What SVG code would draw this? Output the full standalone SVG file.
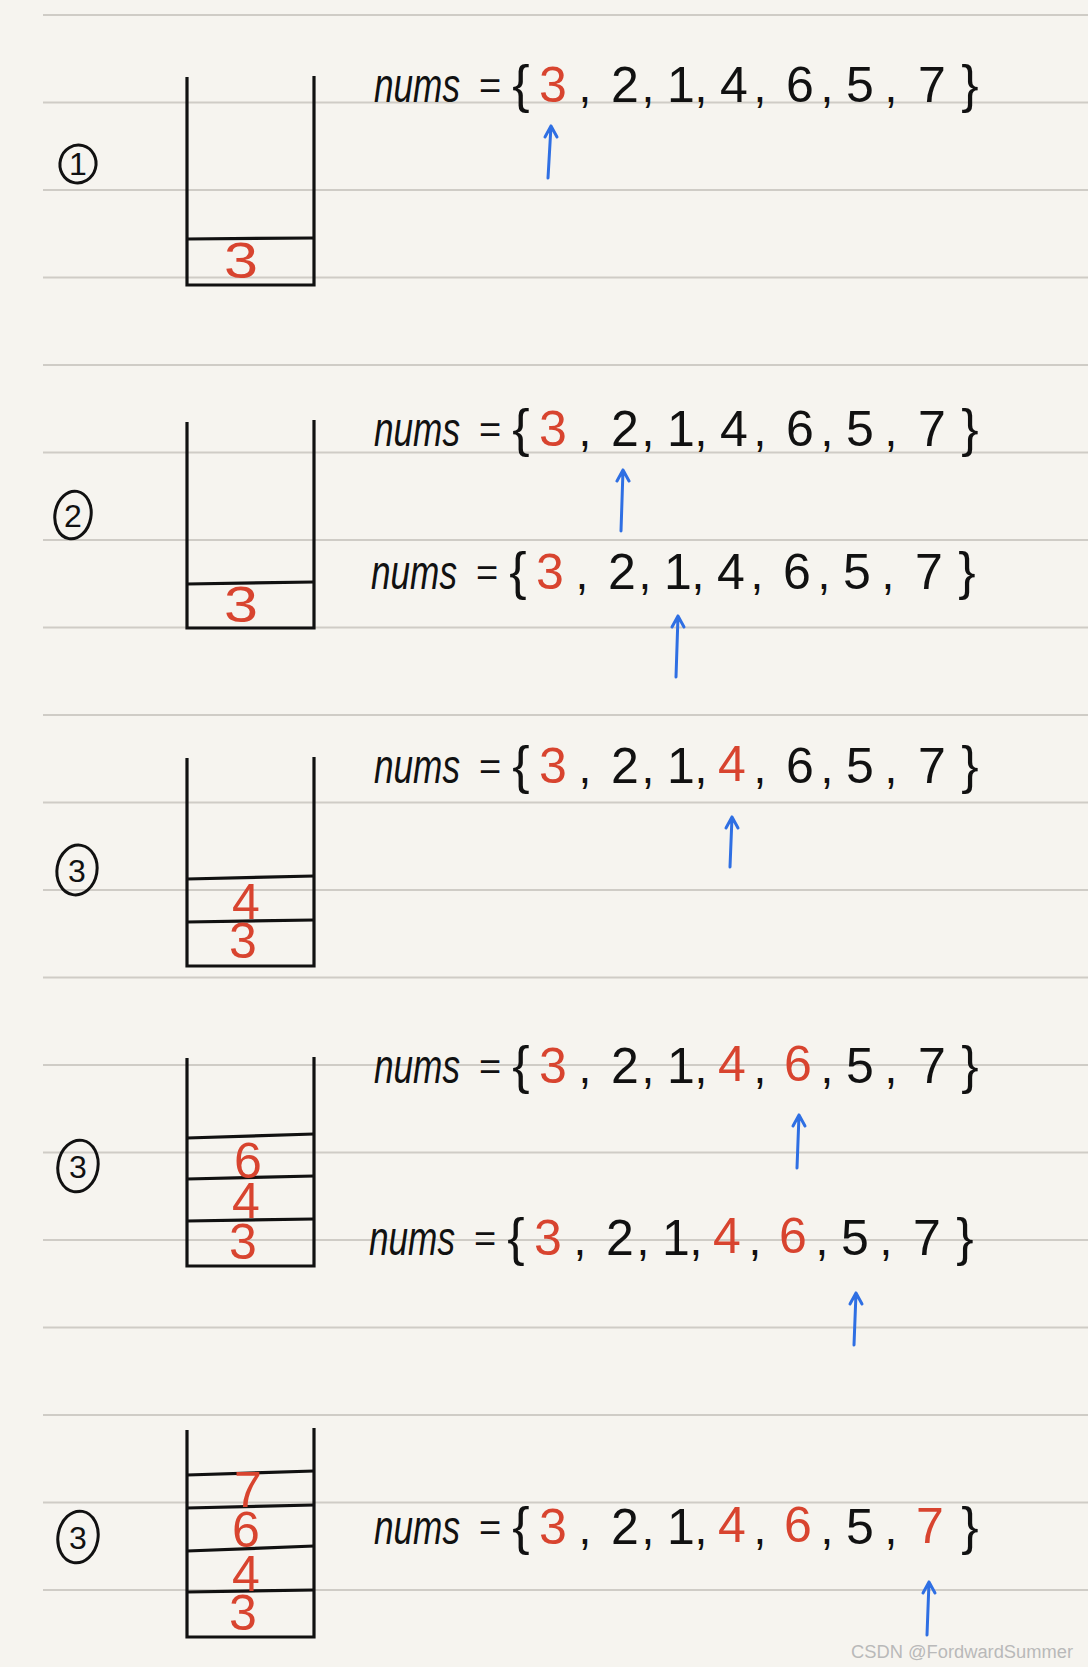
<svg xmlns="http://www.w3.org/2000/svg" width="1088" height="1667" viewBox="0 0 1088 1667">
<defs>
<style>
.bg{fill:#f6f4ef}
.rule{stroke:#cfccc6;stroke-width:2;fill:none}
.stk{stroke:#111;stroke-width:3.2;fill:none;stroke-linejoin:miter}
.t{font-family:"Liberation Sans","DejaVu Sans",sans-serif;fill:#111;text-anchor:middle}
.d{font-size:50px}
.red{fill:#d8442f}
.nums{font-size:48px;text-anchor:start;font-style:italic}
.eq{font-size:38px}
.br{font-size:52px}
.cm{font-size:46px}
.sd{font-family:"Liberation Sans","DejaVu Sans",sans-serif;fill:#d8442f;text-anchor:middle;font-size:50px}
.lab{stroke:#111;stroke-width:3;fill:none}
.labt{font-family:"Liberation Sans","DejaVu Sans",sans-serif;fill:#111;text-anchor:middle;font-size:32px}
.arr{stroke:#2f6fe3;stroke-width:3;fill:none;stroke-linecap:round;stroke-linejoin:round}
.wm{font-family:"Liberation Sans","DejaVu Sans",sans-serif;fill:#b9b9b9;font-size:18px}
</style>
</defs>
<rect class="bg" x="0" y="0" width="1088" height="1667"/>
<g id="rules">
<path class="rule" d="M43,15H1088M43,102.5H1088M43,190H1088M43,277.5H1088M43,365H1088M43,452.5H1088M43,540H1088M43,627.5H1088M43,715H1088M43,802.5H1088M43,890H1088M43,977.5H1088M43,1065H1088M43,1152.5H1088M43,1240H1088M43,1327.5H1088M43,1415H1088M43,1502.5H1088M43,1590H1088"/>
</g>

<g id="label-1">
<ellipse class="lab" cx="78" cy="164" rx="18" ry="19" transform="rotate(15 78 164)"/>
<text class="labt" x="78" y="175" font-size="30">1</text>
</g>
<g id="label-2">
<ellipse class="lab" cx="73" cy="515" rx="18" ry="24" transform="rotate(10 73 515)"/>
<text class="labt" x="73" y="527">2</text>
</g>
<g id="label-3a">
<ellipse class="lab" cx="77" cy="870" rx="20" ry="25" transform="rotate(10 77 870)"/>
<text class="labt" x="77" y="882">3</text>
</g>
<g id="label-3b">
<ellipse class="lab" cx="78" cy="1166" rx="20" ry="26" transform="rotate(10 78 1166)"/>
<text class="labt" x="78" y="1178">3</text>
</g>
<g id="label-3c">
<ellipse class="lab" cx="78" cy="1537" rx="20" ry="26" transform="rotate(10 78 1537)"/>
<text class="labt" x="78" y="1549">3</text>
</g>

<g id="stack-1">
<path class="stk" d="M187,77V285H314V76"/>
<path class="stk" d="M187,239L314,238"/>
<text class="sd" x="241" y="278" font-size="38" textLength="34" lengthAdjust="spacingAndGlyphs">3</text>
</g>
<g id="stack-2">
<path class="stk" d="M187,422V628H314V420"/>
<path class="stk" d="M187,584L314,582"/>
<text class="sd" x="241" y="622" font-size="38" textLength="34" lengthAdjust="spacingAndGlyphs">3</text>
</g>
<g id="stack-3">
<path class="stk" d="M187,758V966H314V757"/>
<path class="stk" d="M187,879L314,876M187,922L314,920"/>
<text class="sd" x="246" y="919">4</text>
<text class="sd" x="243" y="958">3</text>
</g>
<g id="stack-4">
<path class="stk" d="M187,1058V1266H314V1057"/>
<path class="stk" d="M187,1138L314,1134M187,1179L314,1176M187,1221L314,1219"/>
<text class="sd" x="248" y="1178">6</text>
<text class="sd" x="246" y="1218">4</text>
<text class="sd" x="243" y="1259">3</text>
</g>
<g id="stack-5">
<path class="stk" d="M187,1430V1637H314V1428"/>
<path class="stk" d="M187,1475L314,1471M187,1508L314,1505M187,1551L314,1546M187,1592L314,1590"/>
<text class="sd" x="248" y="1507">7</text>
<text class="sd" x="246" y="1547">6</text>
<text class="sd" x="246" y="1591">4</text>
<text class="sd" x="243" y="1630">3</text>
</g>

<g id="row-1" transform="translate(0,102)">
<text class="t nums" x="374" y="0" textLength="86" lengthAdjust="spacingAndGlyphs">nums</text>
<text class="t eq" x="490" y="-3">=</text>
<text class="t br" x="521" y="0">{</text>
<text class="t d red" x="553" y="0">3</text>
<text class="t cm" x="585" y="0">,</text>
<text class="t d" x="625" y="0">2</text><text class="t cm" x="648" y="0">,</text>
<text class="t d" x="681" y="0">1</text><text class="t cm" x="701" y="0">,</text>
<text class="t d" x="734" y="0">4</text><text class="t cm" x="760" y="0">,</text>
<text class="t d" x="800" y="0">6</text><text class="t cm" x="827" y="0">,</text>
<text class="t d" x="860" y="0">5</text><text class="t cm" x="891" y="0">,</text>
<text class="t d" x="932" y="0">7</text>
<text class="t br" x="970" y="0">}</text>
</g>

<g id="row-2a" transform="translate(0,446)">
<text class="t nums" x="374" y="0" textLength="86" lengthAdjust="spacingAndGlyphs">nums</text>
<text class="t eq" x="490" y="-3">=</text>
<text class="t br" x="521" y="0">{</text>
<text class="t d red" x="553" y="0">3</text>
<text class="t cm" x="585" y="0">,</text>
<text class="t d" x="625" y="0">2</text><text class="t cm" x="648" y="0">,</text>
<text class="t d" x="681" y="0">1</text><text class="t cm" x="701" y="0">,</text>
<text class="t d" x="734" y="0">4</text><text class="t cm" x="760" y="0">,</text>
<text class="t d" x="800" y="0">6</text><text class="t cm" x="827" y="0">,</text>
<text class="t d" x="860" y="0">5</text><text class="t cm" x="891" y="0">,</text>
<text class="t d" x="932" y="0">7</text>
<text class="t br" x="970" y="0">}</text>
</g>

<g id="row-2b" transform="translate(-3,589)">
<text class="t nums" x="374" y="0" textLength="86" lengthAdjust="spacingAndGlyphs">nums</text>
<text class="t eq" x="490" y="-3">=</text>
<text class="t br" x="521" y="0">{</text>
<text class="t d red" x="553" y="0">3</text>
<text class="t cm" x="585" y="0">,</text>
<text class="t d" x="625" y="0">2</text><text class="t cm" x="648" y="0">,</text>
<text class="t d" x="681" y="0">1</text><text class="t cm" x="701" y="0">,</text>
<text class="t d" x="734" y="0">4</text><text class="t cm" x="760" y="0">,</text>
<text class="t d" x="800" y="0">6</text><text class="t cm" x="827" y="0">,</text>
<text class="t d" x="860" y="0">5</text><text class="t cm" x="891" y="0">,</text>
<text class="t d" x="932" y="0">7</text>
<text class="t br" x="970" y="0">}</text>
</g>

<g id="row-3" transform="translate(0,783)">
<text class="t nums" x="374" y="0" textLength="86" lengthAdjust="spacingAndGlyphs">nums</text>
<text class="t eq" x="490" y="-3">=</text>
<text class="t br" x="521" y="0">{</text>
<text class="t d red" x="553" y="0">3</text>
<text class="t cm" x="585" y="0">,</text>
<text class="t d" x="625" y="0">2</text><text class="t cm" x="648" y="0">,</text>
<text class="t d" x="681" y="0">1</text><text class="t cm" x="701" y="0">,</text>
<text class="t d red" x="732" y="-2" font-size="58">4</text><text class="t cm" x="760" y="0">,</text>
<text class="t d" x="800" y="0">6</text><text class="t cm" x="827" y="0">,</text>
<text class="t d" x="860" y="0">5</text><text class="t cm" x="891" y="0">,</text>
<text class="t d" x="932" y="0">7</text>
<text class="t br" x="970" y="0">}</text>
</g>

<g id="row-4a" transform="translate(0,1083)">
<text class="t nums" x="374" y="0" textLength="86" lengthAdjust="spacingAndGlyphs">nums</text>
<text class="t eq" x="490" y="-3">=</text>
<text class="t br" x="521" y="0">{</text>
<text class="t d red" x="553" y="0">3</text>
<text class="t cm" x="585" y="0">,</text>
<text class="t d" x="625" y="0">2</text><text class="t cm" x="648" y="0">,</text>
<text class="t d" x="681" y="0">1</text><text class="t cm" x="701" y="0">,</text>
<text class="t d red" x="732" y="-2" font-size="58">4</text><text class="t cm" x="760" y="0">,</text>
<text class="t d red" x="798" y="-2" font-size="66">6</text><text class="t cm" x="827" y="0">,</text>
<text class="t d" x="860" y="0">5</text><text class="t cm" x="891" y="0">,</text>
<text class="t d" x="932" y="0">7</text>
<text class="t br" x="970" y="0">}</text>
</g>

<g id="row-4b" transform="translate(-5,1255)">
<text class="t nums" x="374" y="0" textLength="86" lengthAdjust="spacingAndGlyphs">nums</text>
<text class="t eq" x="490" y="-3">=</text>
<text class="t br" x="521" y="0">{</text>
<text class="t d red" x="553" y="0">3</text>
<text class="t cm" x="585" y="0">,</text>
<text class="t d" x="625" y="0">2</text><text class="t cm" x="648" y="0">,</text>
<text class="t d" x="681" y="0">1</text><text class="t cm" x="701" y="0">,</text>
<text class="t d red" x="732" y="-2" font-size="58">4</text><text class="t cm" x="760" y="0">,</text>
<text class="t d red" x="798" y="-2" font-size="66">6</text><text class="t cm" x="827" y="0">,</text>
<text class="t d" x="860" y="0">5</text><text class="t cm" x="891" y="0">,</text>
<text class="t d" x="932" y="0">7</text>
<text class="t br" x="970" y="0">}</text>
</g>

<g id="row-5" transform="translate(0,1544)">
<text class="t nums" x="374" y="0" textLength="86" lengthAdjust="spacingAndGlyphs">nums</text>
<text class="t eq" x="490" y="-3">=</text>
<text class="t br" x="521" y="0">{</text>
<text class="t d red" x="553" y="0">3</text>
<text class="t cm" x="585" y="0">,</text>
<text class="t d" x="625" y="0">2</text><text class="t cm" x="648" y="0">,</text>
<text class="t d" x="681" y="0">1</text><text class="t cm" x="701" y="0">,</text>
<text class="t d red" x="732" y="-2" font-size="58">4</text><text class="t cm" x="760" y="0">,</text>
<text class="t d red" x="798" y="-2" font-size="62">6</text><text class="t cm" x="827" y="0">,</text>
<text class="t d" x="860" y="0">5</text><text class="t cm" x="891" y="0">,</text>
<text class="t d red" x="930" y="-1" font-size="60">7</text>
<text class="t br" x="970" y="0">}</text>
</g>

<g id="connectors">
<path class="arr" d="M548,178L551,126M545,137L551,126L557,137"/>
<path class="arr" d="M621,531L623,470M617,481L623,470L629,481"/>
<path class="arr" d="M676,677L678,616M672,627L678,616L684,627"/>
<path class="arr" d="M730,867L732,817M726,828L732,817L738,828"/>
<path class="arr" d="M797,1168L799,1115M793,1126L799,1115L805,1126"/>
<path class="arr" d="M854,1345L856,1293M850,1304L856,1293L862,1304"/>
<path class="arr" d="M927,1635L929,1582M923,1593L929,1582L935,1593"/>
</g>

<text class="wm" x="851" y="1658" textLength="222" lengthAdjust="spacingAndGlyphs">CSDN @FordwardSummer</text>
</svg>
